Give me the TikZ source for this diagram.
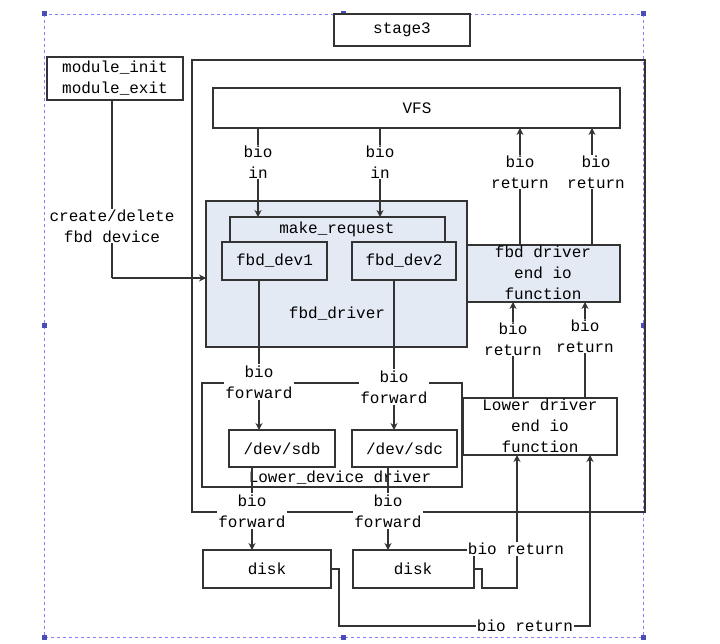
\documentclass[tikz,border=0pt]{standalone}
\usepackage{fontspec}
\setmainfont{Liberation Mono}
\usetikzlibrary{arrows.meta}
\definecolor{shadec}{RGB}{228,234,244}
\begin{document}
\begin{tikzpicture}[x=1pt,y=-1pt,
  ln/.style={draw=black!80,line width=1.2pt},
  box/.style={ln},
  shade/.style={ln,fill=shadec},
  lbl/.style={fill=white,inner sep=1pt,align=center,font=\fontsize{16}{21}\selectfont},
  txt/.style={inner sep=0pt,align=center,font=\fontsize{16}{21}\selectfont},
  arr/.style={ln,-{Stealth[length=7pt,width=7pt]}},
  hd/.style={fill=blue!60!black!70,draw=none}]
\useasboundingbox (0,0) rectangle (720,644);
% outer dashed frame
\draw[blue!50,dashed,line width=0.6pt] (44,14) rectangle (643,637);
\foreach \p in {(44,14),(343,14),(643,14),(44,325),(643,325),(44,637),(343,637),(643,637)}
  \fill[hd] \p +(-2.5,-2.5) rectangle +(2.5,2.5);
% big frame
\draw[ln] (192,60) rectangle (645,512);
% stage3
\draw[box,fill=white] (334,14) rectangle (470,46);
\node[txt] (stage) at (402,30) {stage3};
% module
\draw[box] (47,57) rectangle (183,100);
\node[txt] (mod) at (115,78.5) {module\_init\\module\_exit};
% VFS
\draw[box] (213,88) rectangle (620,128);
\node[txt] (vfs) at (417,108) {VFS};
% fbd driver
\draw[shade] (206,201) rectangle (467,347);
\node[txt] (fbd) at (337,314) {fbd\_driver};
\draw[box] (230,242) -- (230,217) -- (445,217) -- (445,242);
\node[txt] (mr) at (337,229) {make\_request};
\draw[box] (222,242) rectangle (327,280);
\node[txt] (d1) at (274.5,261) {fbd\_dev1};
\draw[box] (352,242) rectangle (456,280);
\node[txt] (d2) at (404,261) {fbd\_dev2};
% fbd end io
\draw[shade] (467,245) rectangle (620,302);
\node[txt] (fe) at (543,273) {fbd driver\\end io\\function};
% lower end io
\draw[box] (463,398) rectangle (617,455);
\node[txt] (le) at (540,426) {Lower driver\\end io\\function};
% lower device driver
\draw[box] (202,383) rectangle (462,487);
\node[txt] (ldd) at (340,478) {Lower\_device driver};
\draw[box,fill=white] (229,430) rectangle (335,467);
\node[txt] (sdb) at (282,449) {/dev/sdb};
\draw[box,fill=white] (352,430) rectangle (457,467);
\node[txt] (sdc) at (404.5,449) {/dev/sdc};
% disks
\draw[box] (203,550) rectangle (331,588);
\node[txt] (k1) at (267,569) {disk};
\draw[box] (353,550) rectangle (474,588);
\node[txt] (k2) at (413,569) {disk};
% module -> fbd
\coordinate (m0) at (112,100);
\coordinate (m1) at (112,278);
\coordinate (m2) at (206,278);
\draw[ln] (m0) -- (m1);
\draw[arr] (m1) -- (m2);
\node[lbl] (cd) at (112,226) {create/delete\\fbd device};
% bio in
\coordinate (v1) at (258,128); \coordinate (r1) at (258,217);
\coordinate (v2) at (380,128); \coordinate (r2) at (380,217);
\draw[arr] (v1) -- (r1);
\draw[arr] (v2) -- (r2);
\node[lbl] (bi1) at (258,162) {bio\\in};
\node[lbl] (bi2) at (380,162) {bio\\in};
% returns to VFS
\coordinate (e1) at (520,245); \coordinate (u1) at (520,128);
\coordinate (e2) at (592,245); \coordinate (u2) at (592,128);
\draw[arr] (e1) -- (u1);
\draw[arr] (e2) -- (u2);
\node[lbl] (br1) at (520,172) {bio\\return};
\node[lbl] (br2) at (596,172) {bio\\return};
% returns lower->fbd
\coordinate (l1) at (513,398); \coordinate (f1) at (513,302);
\coordinate (l2) at (585,398); \coordinate (f2) at (585,302);
\draw[arr] (l1) -- (f1);
\draw[arr] (l2) -- (f2);
\node[lbl] (br3) at (513,339) {bio\\return};
\node[lbl] (br4) at (585,336) {bio\\return};
% forward dev -> sd
\coordinate (a1) at (259,280); \coordinate (a2) at (259,430);
\coordinate (b1) at (394,280); \coordinate (b2) at (394,430);
\node[lbl] (bf1) at (259,382) {bio\\forward};
\node[lbl] (bf2) at (394,387) {bio\\forward};
\draw[ln] (a1) -- (bf1.north);
\draw[arr] (bf1.south) -- (a2);
\draw[ln] (b1) -- (bf2.north);
\draw[arr] (bf2.south) -- (b2);
% forward sd -> disk
\coordinate (s1) at (252,467); \coordinate (t1) at (252,550);
\coordinate (s2) at (388,467); \coordinate (t2) at (388,550);
\node[lbl] (bf3) at (252,511) {bio\\forward};
\node[lbl] (bf4) at (388,511) {bio\\forward};
\draw[ln] (s1) -- (bf3.north);
\draw[arr] (bf3.south) -- (t1);
\draw[ln] (s2) -- (bf4.north);
\draw[arr] (bf4.south) -- (t2);
% disk returns
\coordinate (q1) at (474,569); \coordinate (q2) at (517,455);
\draw[arr] (q1) -- (482,569) -- (482,588) -- (517,588) -- (q2);
\node[lbl] (br5) at (516,549) {bio return};
\coordinate (p1) at (331,569); \coordinate (p2) at (590,455);
\draw[arr] (p1) -- (339,569) -- (339,626) -- (590,626) -- (p2);
\node[lbl] (br6) at (525,626) {bio return};
\end{tikzpicture}
\end{document}
